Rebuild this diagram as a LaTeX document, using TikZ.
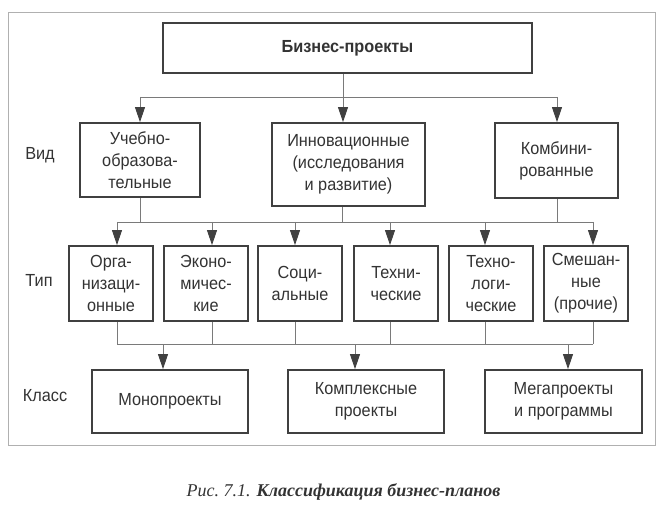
\documentclass[tikz,border=0pt]{standalone}
\usepackage{fontspec}
\setmainfont{Liberation Sans}[FakeStretch=0.93]
\newfontfamily\capfont{Liberation Serif}
\usetikzlibrary{arrows.meta}
\definecolor{boxline}{HTML}{404040}
\definecolor{txt}{HTML}{333333}
\definecolor{connline}{HTML}{7A7A7A}
\definecolor{frameline}{HTML}{B0B0B0}
\tikzset{
  box/.style={draw=boxline, line width=1.8pt, rectangle, align=center, inner sep=2pt,
    text=txt, font=\fontsize{17.5}{22}\selectfont},
  conn/.style={draw=connline, line width=0.9pt},
  arr/.style={draw=connline, line width=0.9pt,
    -{Triangle[length=15pt,width=10pt,fill=boxline,color=boxline]}},
  lvl/.style={text=txt, font=\fontsize{17.5}{20}\selectfont},
}
\begin{document}
\begin{tikzpicture}[x=1pt,y=-1pt]
\useasboundingbox (0,0) rectangle (663,510);
\draw[frameline, line width=0.9pt] (8,12) rectangle (655,445);

% top
\node[box, font=\fontsize{17.5}{22}\selectfont\bfseries, minimum width=369pt, minimum height=50pt] (top) at (347.5,48) {Бизнес-проекты};

% level Vid
\node[box, minimum width=120pt, minimum height=74pt] (v1) at (140,160) {Учебно-\\образова-\\тельные};
\node[box, minimum width=153pt, minimum height=83pt] (v2) at (348.5,164.5) {Инновационные\\(исследования\\и развитие)};
\node[box, minimum width=123pt, minimum height=75pt] (v3) at (556.5,160.5) {Комбини-\\рованные};

% level Tip
\node[box, minimum width=84pt, minimum height=75pt] (t1) at (111,283.5) {Орга-\\низаци-\\онные};
\node[box, minimum width=84pt, minimum height=75pt] (t2) at (206,283.5) {Эконо-\\мичес-\\кие};
\node[box, minimum width=84pt, minimum height=75pt] (t3) at (300,283.5) {Соци-\\альные};
\node[box, minimum width=84pt, minimum height=75pt] (t4) at (396,283.5) {Техни-\\ческие};
\node[box, minimum width=84pt, minimum height=75pt] (t5) at (491,283.5) {Техно-\\логи-\\ческие};
\node[box, minimum width=84pt, minimum height=75pt] (t6) at (586,283.5) {Смешан-\\ные\\(прочие)};

% level Klass
\node[box, minimum width=156pt, minimum height=63pt] (k1) at (170,401.5) {Монопроекты};
\node[box, minimum width=156pt, minimum height=63pt] (k2) at (366,401.5) {Комплексные\\проекты};
\node[box, minimum width=157pt, minimum height=63pt] (k3) at (563.5,401.5) {Мегапроекты\\и программы};

% row labels
\node[lvl] (lv) at (40,155) {Вид};
\node[lvl] (lt) at (39,280) {Тип};
\node[lvl] (lk) at (45,396) {Класс};

% bars
\coordinate (b1) at (0,97);
\coordinate (b2) at (0,222);
\coordinate (b3) at (0,344);

% top -> Vid
\draw[conn] ([xshift=-4.5pt]top.south) -- ([xshift=-4.5pt]top.south |- b1);
\draw[conn] (v1.north |- b1) -- ([xshift=0.5pt]v3.north |- b1);
\draw[arr] (v1.north |- b1) -- (v1.north);
\draw[arr] ([xshift=-5.5pt]v2.north |- b1) -- ([xshift=-5.5pt]v2.north);
\draw[arr] ([xshift=0.5pt]v3.north |- b1) -- ([xshift=0.5pt]v3.north);

% Vid -> Tip
\draw[conn] (v1.south) -- (v1.south |- b2);
\draw[conn] ([xshift=-6.5pt]v2.south) -- ([xshift=-6.5pt]v2.south |- b2);
\draw[conn] ([xshift=0.5pt]v3.south) -- ([xshift=0.5pt]v3.south |- b2);
\draw[conn] ([xshift=6pt]t1.north |- b2) -- ([xshift=7pt]t6.north |- b2);
\draw[arr] ([xshift=6pt]t1.north |- b2) -- ([xshift=6pt]t1.north);
\draw[arr] ([xshift=6pt]t2.north |- b2) -- ([xshift=6pt]t2.north);
\draw[arr] ([xshift=-5pt]t3.north |- b2) -- ([xshift=-5pt]t3.north);
\draw[arr] ([xshift=-6pt]t4.north |- b2) -- ([xshift=-6pt]t4.north);
\draw[arr] ([xshift=-6pt]t5.north |- b2) -- ([xshift=-6pt]t5.north);
\draw[arr] ([xshift=7pt]t6.north |- b2) -- ([xshift=7pt]t6.north);

% Tip -> Klass
\draw[conn] ([xshift=6pt]t1.south) -- ([xshift=6pt]t1.south |- b3);
\draw[conn] ([xshift=6pt]t2.south) -- ([xshift=6pt]t2.south |- b3);
\draw[conn] ([xshift=-5pt]t3.south) -- ([xshift=-5pt]t3.south |- b3);
\draw[conn] ([xshift=-6pt]t4.south) -- ([xshift=-6pt]t4.south |- b3);
\draw[conn] ([xshift=-6pt]t5.south) -- ([xshift=-6pt]t5.south |- b3);
\draw[conn] ([xshift=7pt]t6.south) -- ([xshift=7pt]t6.south |- b3);
\draw[conn] ([xshift=6pt]t1.south |- b3) -- ([xshift=7pt]t6.south |- b3);
\draw[arr] ([xshift=-7pt]k1.north |- b3) -- ([xshift=-7pt]k1.north);
\draw[arr] ([xshift=-11pt]k2.north |- b3) -- ([xshift=-11pt]k2.north);
\draw[arr] ([xshift=4.5pt]k3.north |- b3) -- ([xshift=4.5pt]k3.north);

% caption
\node[text=txt, font=\fontsize{18}{20}\selectfont] (cap) at (343.5,492)
  {\capfont\itshape Рис.~7.1. \bfseries Классификация бизнес-планов};
\end{tikzpicture}
\end{document}
